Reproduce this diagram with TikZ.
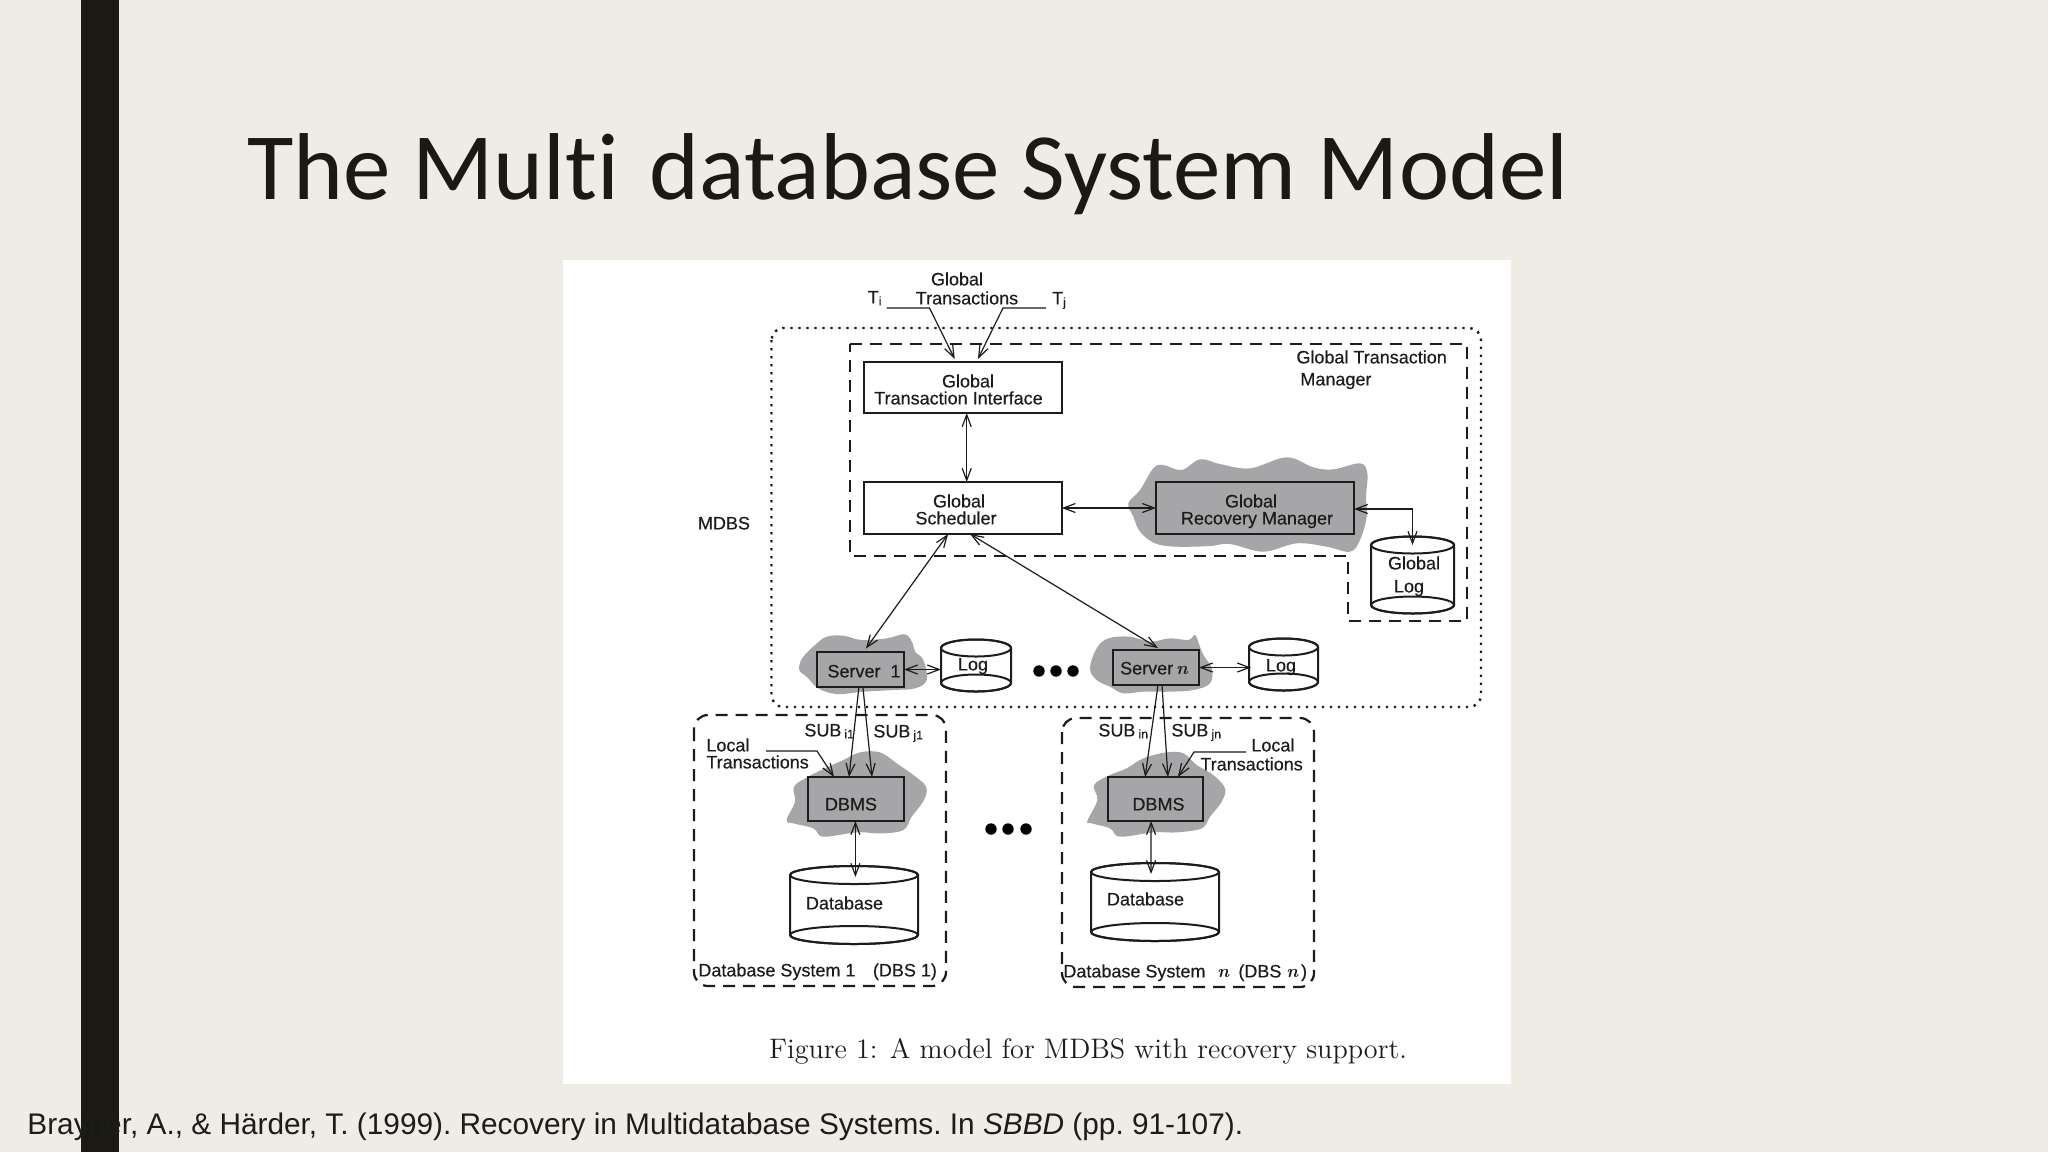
\documentclass[tikz,border=0pt]{standalone}
\usepackage{fontspec}
\newfontfamily\arial{Liberation Sans}
\newfontfamily\arialb[FakeBold=0.35]{Liberation Sans}
\newfontfamily\titlefont[Ligatures=NoCommon]{Carlito}
\usetikzlibrary{arrows.meta,calc}
\definecolor{slidebg}{HTML}{EFEBE5}
\definecolor{barblack}{HTML}{1A1A12}
\definecolor{cloudgray}{HTML}{A6A6A8}
\definecolor{ink}{HTML}{1C1C1C}
\tikzset{
  box/.style={draw=ink,line width=1.2pt,fill=white,inner sep=0pt,minimum width=#1,outer sep=0pt},
  grayfill/.style={fill=cloudgray},
  cloudshape/.style={fill=cloudgray,draw=none},
  cylshape/.style={draw=ink,line width=1pt,fill=white},
  lab/.style={font=\arialb\fontsize{9}{10}\selectfont,text=ink,inner sep=0pt,anchor=base,yshift=-3.2pt},
  labl/.style={lab,anchor=base west},
  conn/.style={draw=ink,line width=0.6pt},
  both/.style={conn,{Straight Barb[length=6pt,width=4.5pt]}-{Straight Barb[length=6pt,width=4.5pt]}},
  single/.style={conn,-{Straight Barb[length=6pt,width=4.5pt]}},
  dashbox/.style={draw=ink,line width=1.1pt,dash pattern=on 6pt off 4pt},
  dotbox/.style={draw=ink,line width=1.2pt,dash pattern=on 1.2pt off 2.8pt},
  bigdot/.style={circle,fill=black,inner sep=0pt,minimum size=5.7pt},
}
\newcommand{\sbb}[1]{\raisebox{-1pt}{\fontsize{6.2}{7}\selectfont #1}}
\newcommand{\bn}{{\rmfamily\bfseries\itshape n}}
% name, cx, ytop-centre, ybottom-centre, rx, ry
\newcommand{\cyl}[6]{%
  \path[cylshape] (#2-#5,#3) -- (#2-#5,#4) arc[start angle=180,end angle=360,x radius=#5*0.5pt,y radius=#6*0.5pt] -- (#2+#5,#3) arc[start angle=0,end angle=180,x radius=#5*0.5pt,y radius=#6*0.5pt] -- cycle;
  \draw[draw=ink,line width=1pt] (#2,#3) ellipse[x radius=#5*0.5pt,y radius=#6*0.5pt];
  \draw[draw=ink,line width=1pt] (#2,#4) ellipse[x radius=#5*0.5pt,y radius=#6*0.5pt];
  \node[inner sep=0pt,minimum width=1pt,minimum height=1pt] (#1) at (#2,#3) {};
}
\begin{document}
\begin{tikzpicture}[x=0.5pt,y=-0.5pt]
\useasboundingbox[fill=slidebg] (0,0) rectangle (2048,1152);
\fill[barblack] (80.5,0) rectangle (119,1152);
\fill[white] (563,260) rectangle (1511,1084);

\node[anchor=base west,inner sep=0pt,text=barblack,font=\titlefont\fontsize{47.5}{50}\selectfont] (title) at (247,199.5) {The Multi\hspace{0.1em} database System Model};
\node[anchor=base west,inner sep=0pt,text=ink,font=\arial\fontsize{14.9}{16}\selectfont] (cite) at (27,1134) {\frenchspacing Brayner, A., \& Härder, T. (1999). Recovery in Multidatabase Systems. In \textit{SBBD} (pp. 91-107).};

% clouds
\path[cloudshape,shift={(1120,440)},x=0.16667pt,y=-0.16667pt] plot[smooth cycle,tension=.6] coordinates {(25,190)(60,150)(100,85)(130,75)(185,90)(240,58)(300,72)(390,85)(500,52)(580,82)(640,88)(720,70)(742,100)(738,170)(740,230)(720,300)(690,335)(620,320)(530,310)(430,335)(330,312)(270,318)(170,320)(105,310)(60,275)(40,230)};
\path[cloudshape,shift={(790,625)},x=0.16667pt,y=-0.16667pt] plot[smooth cycle,tension=.6] coordinates {(28,120)(40,95)(75,60)(110,35)(160,32)(215,45)(290,40)(345,28)(368,55)(375,80)(400,105)(410,165)(375,190)(310,195)(220,200)(140,207)(85,190)(50,155)(30,140)};
\path[cloudshape,shift={(780,625)},x=0.16667pt,y=-0.16667pt] plot[smooth cycle,tension=.6] coordinates {(930,130)(950,70)(985,40)(1050,35)(1110,50)(1170,40)(1225,45)(1245,30)(1258,60)(1270,90)(1295,130)(1290,175)(1240,195)(1170,200)(1090,200)(1030,205)(990,185)(950,165)};
\path[cloudshape,shift={(770,745)},x=0.16667pt,y=-0.16667pt] plot[smooth cycle,tension=.6] coordinates {(50,225)(75,170)(72,125)(115,95)(165,70)(220,45)(270,22)(330,22)(380,55)(430,90)(468,125)(462,165)(425,215)(400,255)(335,265)(260,262)(160,275)(130,250)(70,235)};
\path[cloudshape,shift={(1070,745)},x=0.16667pt,y=-0.16667pt] plot[smooth cycle,tension=.6] coordinates {(52,228)(82,165)(72,120)(120,90)(170,70)(220,40)(290,22)(340,25)(380,60)(430,90)(465,130)(455,170)(420,215)(395,250)(320,262)(250,262)(150,275)(120,250)(65,235)};

% enclosures
\draw[dotbox,rounded corners=6pt] (771.5,328) rectangle (1481,707);
\draw[dashbox] (850,344) -- (1467,344) -- (1467,621) -- (1348,621) -- (1348,556) -- (850,556) -- cycle;
\draw[dashbox,rounded corners=7pt] (694,715) rectangle (946,986);
\draw[dashbox,rounded corners=7pt] (1062,718) rectangle (1314,987);

% boxes
\node[box=99pt,minimum height=25.5pt] (gti) at (962.7,387.5) {};
\node[box=99pt,minimum height=26pt] (gs) at (962.7,508) {};
\node[box=99pt,minimum height=26pt,grayfill] (grm) at (1255,508) {};
\node[box=43.5pt,minimum height=17.5pt,grayfill] (srv1) at (860.5,669.5) {};
\node[box=43pt,minimum height=17.5pt,grayfill] (srvn) at (1156,667.5) {};
\node[box=48pt,minimum height=22pt,grayfill] (dbms1) at (856,799) {};
\node[box=47.5pt,minimum height=22pt,grayfill] (dbmsn) at (1155.5,799) {};

% cylinders
\cyl{glog}{1412.5}{545}{605}{41.5}{8.5}
\cyl{log1}{976}{648}{683}{35}{8.5}
\cyl{logn}{1283.5}{647}{682}{34.5}{8.5}
\cyl{db1}{854}{875}{935}{64}{9}
\cyl{dbn}{1155}{872}{932}{64}{9}

% dots
\node[bigdot] (d1a) at (1039,671) {};
\node[bigdot] (d1b) at (1056,671) {};
\node[bigdot] (d1c) at (1073,671) {};
\node[bigdot] (d2a) at (991,829) {};
\node[bigdot] (d2b) at (1008,829) {};
\node[bigdot] (d2c) at (1026,829) {};

% free ends
\coordinate (ti0) at (886.6,308);
\coordinate (ti1) at (929.5,308);
\coordinate (tj0) at (1046,308);
\coordinate (tj1) at (1003,308);
\coordinate (ll0) at (766,751);
\coordinate (ll1) at (817,751);
\coordinate (lr0) at (1246,752);
\coordinate (lr1) at (1194,752);
\coordinate (l1w) at (941,669.5);
\coordinate (lnw) at (1251,667.5);
\coordinate (db1t) at (855.4,877);
\coordinate (dbnt) at (1151,874);

% connectors
\draw[single] (ti0) -- (ti1) -- ([xshift=-4pt,yshift=1.5pt]gti.north);
\draw[single] (tj0) -- (tj1) -- ([xshift=7.6pt,yshift=1.5pt]gti.north);
\draw[both] ([xshift=2pt]gti.south) -- ([xshift=2pt]gs.north);
\draw[both] (gs.east) -- (grm.west);
\draw[both] ([yshift=-0.5pt]grm.east) -| (glog.center);
\draw[both] ([xshift=-7.3pt]gs.south) -- ([xshift=2.7pt,yshift=1.7pt]srv1.north);
\draw[both] ([xshift=3.7pt]gs.south) -- ([xshift=1pt,yshift=1pt]srvn.north);
\draw[both] (srv1.east) -- (l1w);
\draw[both] (srvn.east) -- (lnw);
\draw[single] ([xshift=-0.8pt]srv1.south) -- ([xshift=-3.5pt]dbms1.north);
\draw[single] ([xshift=1.2pt]srv1.south) -- ([xshift=8pt]dbms1.north);
\draw[single] ([xshift=1pt]srvn.south) -- ([xshift=-5.2pt]dbmsn.north);
\draw[single] ([xshift=3pt]srvn.south) -- ([xshift=6.2pt]dbmsn.north);
\draw[single] (ll0) -- (ll1) -- ([xshift=-11pt]dbms1.north);
\draw[single] (lr0) -- (lr1) -- ([xshift=11.2pt]dbmsn.north);
\draw[both] ([xshift=-0.3pt]dbms1.south) -- (db1t);
\draw[both] ([xshift=-2.2pt]dbmsn.south) -- (dbnt);

% labels
\node[lab] (tTi) at (874.6,297) {T\sbb{i}};
\node[lab] (tTj) at (1059,298) {T\sbb{j}};
\node[lab] (tG) at (957,279) {Global};
\node[lab] (tT) at (967,298) {Transactions};
\node[labl] (tGTM) at (1296,357) {Global Transaction};
\node[labl] (tMan) at (1300,379) {Manager};
\node[lab] (tMDBS) at (724,523) {MDBS};
\node[lab] (a1) at (968,381) {Global};
\node[lab] (a2) at (958.5,398) {Transaction Interface};
\node[lab] (b1) at (959,501) {Global};
\node[lab] (b2) at (956,518) {Scheduler};
\node[lab] (c1) at (1251,501) {Global};
\node[lab] (c2) at (1257,518) {Recovery Manager};
\node[lab] (tglog1) at (1414,563) {Global};
\node[lab] (tglog2) at (1409,586) {Log};
\node[lab] (ts1) at (864,671) {Server\ \ 1};
\node[lab] (tsn) at (1154,668) {Server\,\bn};
\node[lab] (tl1) at (973,664) {Log};
\node[lab] (tln) at (1281,665) {Log};
\node[lab] (td1) at (851,804) {DBMS};
\node[lab] (tdn) at (1158.5,804) {DBMS};
\node[labl] (s1) at (804,730) {SUB\,\sbb{i1}};
\node[labl] (s2) at (873,731) {SUB\,\sbb{j1}};
\node[labl] (s3) at (1098,730) {SUB\,\sbb{in}};
\node[labl] (s4) at (1171,730) {SUB\,\sbb{jn}};
\node[labl] (ll1t) at (706,745) {Local};
\node[labl] (ll2t) at (706,762) {Transactions};
\node[labl] (lr1t) at (1251,745) {Local};
\node[labl] (lr2t) at (1200,764) {Transactions};
\node[lab] (dbt1) at (844.5,903) {Database};
\node[lab] (dbt2) at (1145.5,899) {Database};
\node[labl] (ds1) at (698,970) {Database System 1};
\node[labl] (ds1b) at (872.5,970) {(DBS 1)};
\node[labl] (dsn) at (1063,971) {Database System};
\node[labl] (dsnb) at (1217,971) {\bn};
\node[labl] (dsnc) at (1238,971) {(DBS \bn\,)};

% caption
\node[inner sep=0pt,anchor=base,text=ink,font=\fontsize{14.1}{15}\selectfont] (cap) at (1088,1058) {Figure 1: A model for MDBS with recovery support.};
\end{tikzpicture}
\end{document}
